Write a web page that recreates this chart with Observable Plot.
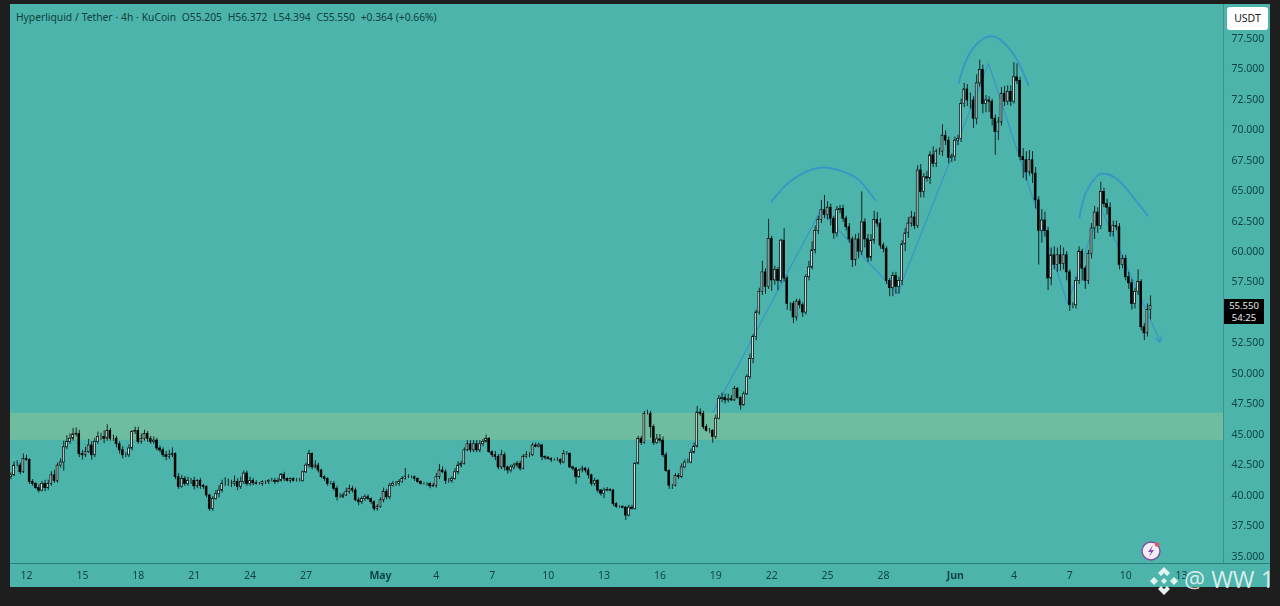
<!DOCTYPE html>
<html><head><meta charset="utf-8">
<script src="https://cdn.jsdelivr.net/npm/d3@7"></script>
<script src="https://cdn.jsdelivr.net/npm/@observablehq/plot@0.6"></script>
<style>
html,body{margin:0;padding:0;background:#1e1e1e;width:1280px;height:606px;overflow:hidden}
#panel{position:absolute;left:10px;top:4px;width:1260px;height:583px;background:#4db4ab}
#yline{position:absolute;left:1223px;top:4px;width:1px;height:559px;background:#3f8f8a}
#xline{position:absolute;left:10px;top:563px;width:1260px;height:1px;background:#2c7f7a}
#chart{position:absolute;left:0;top:0;filter:blur(.35px)}
#title{position:absolute;left:16px;top:10px;font:10.28px/14px "Noto Sans",sans-serif;color:#0c3f40;white-space:pre;word-spacing:.2px}
#usdt{position:absolute;left:1227px;top:7px;width:41px;height:23px;background:#fff;border-radius:3px;font:10.5px/23px "Noto Sans",sans-serif;color:#222;text-align:center}
#last{position:absolute;left:1224px;top:299px;width:40px;height:25px;background:#000;color:#e8e8e8;font:9.5px/12px "Noto Sans",sans-serif;text-align:center;box-sizing:border-box;padding-top:.5px}
#wm{position:absolute;left:1184px;top:564px;font:23.5px/30px "Open Sans",sans-serif;color:rgba(255,255,255,.78);white-space:pre}
svg.ov{position:absolute}
</style></head><body>
<div id="panel"></div><div id="yline"></div><div id="xline"></div>
<div id="chart"></div>
<div id="title">Hyperliquid / Tether · 4h · KuCoin  O55.205  H56.372  L54.394  C55.550  +0.364 (+0.66%)</div>
<div id="usdt">USDT</div>
<div id="last">55.550<br>54:25</div>
<svg class="ov" style="left:1140px;top:540px" width="22" height="22" viewBox="0 0 22 22"><circle cx="11" cy="11" r="9" fill="#f3eef6" stroke="#7d4fa0" stroke-width="1.4"/><path d="M13 5 L8 12 H11 L9 17 L14 10 H11 Z" fill="#8a4fb0"/><circle cx="17" cy="4.5" r="2.2" fill="#e8556a"/></svg>
<svg class="ov" style="left:1148px;top:565px" width="32" height="32" viewBox="0 0 32 32"><g fill="#e6f2f0"><path d="M16 2 L22 8 L19 11 L16 8 L13 11 L10 8 Z"/><path d="M16 30 L22 24 L19 21 L16 24 L13 21 L10 24 Z"/><path d="M2 16 L6 12 L10 16 L6 20 Z"/><path d="M30 16 L26 12 L22 16 L26 20 Z"/><path d="M16 13 L19 16 L16 19 L13 16 Z"/></g></svg>
<div id="wm">@ WW 1</div>
<script>
// Chart values, one row per calendar day (first row: the candles before 12 Apr)
const closes = [
41.65,42.45,42.45,41.9,43.0,
42.9,41.1,40.95,40.6,40.4,40.95,
40.6,40.95,41.65,41.2,42.45,42.7,
43.95,44.4,44.65,45.0,45.05,43.4,
43.3,43.55,44.1,43.3,44.4,44.8,
44.8,44.65,45.3,44.65,44.65,44.2,
43.7,43.3,43.3,43.85,45.2,45.3,
44.4,44.65,45.05,44.65,44.4,44.5,
43.85,43.7,43.3,43.15,43.3,43.4,
41.5,40.7,41.35,40.95,41.2,41.2,
40.75,41.2,40.8,40.7,40.0,38.9,
39.7,40.1,40.4,40.95,40.95,40.95,
40.95,41.1,40.7,41.1,41.8,40.95,
41.2,41.0,40.95,40.95,41.1,41.1,
41.2,41.2,41.1,41.2,41.7,41.35,
41.2,41.35,41.2,41.2,41.2,41.9,
42.45,43.4,42.3,42.45,42.05,41.5,
41.35,40.95,40.95,40.55,39.85,39.85,
40.0,40.3,40.55,40.4,39.6,39.45,
39.7,39.85,39.7,39.45,38.9,39.05,
39.6,40.3,39.85,40.8,40.95,40.95,
41.1,41.35,41.5,41.5,41.5,41.35,
41.1,40.95,40.95,40.95,40.75,40.8,
41.5,42.05,41.9,41.2,41.2,41.35,
41.9,42.45,42.6,43.7,44.2,43.7,
44.2,43.7,44.2,44.4,44.65,43.55,
43.3,43.15,42.3,43.3,42.3,42.05,
42.3,42.45,42.6,42.2,43.15,43.3,
43.3,44.1,44.0,44.1,43.15,43.1,
43.0,42.9,42.9,42.9,42.7,43.4,
43.4,42.3,42.2,41.5,42.05,42.2,
42.05,41.65,40.95,41.2,40.4,40.15,
40.4,40.45,40.4,39.3,39.05,39.05,
39.0,38.35,39.0,38.9,42.6,44.65,
44.3,46.7,46.7,45.6,44.3,44.6,
44.5,43.3,42.0,40.8,40.8,41.6,
41.5,42.3,42.7,42.7,43.5,44.0,
46.8,46.7,45.6,45.3,45.3,44.8,
46.3,47.9,48.0,47.8,47.9,47.8,
48.75,48.0,47.4,48.3,49.7,51.2,
53.0,55.0,56.7,58.3,57.1,61.05,
57.64,58.5,57.6,60.9,57.8,55.7,
55.7,54.6,55.9,55.6,55.0,57.9,
58.7,60.1,61.7,62.6,63.4,63.0,
63.6,62.7,61.5,63.4,63.5,62.7,
62.0,61.0,59.3,61.0,60.0,62.4,
61.0,59.5,60.9,62.6,62.3,60.5,
60.2,57.6,57.0,58.0,57.1,57.6,
60.6,61.5,62.3,62.8,62.1,66.65,
64.9,66.1,66.0,67.9,67.2,68.2,
68.2,69.5,69.1,67.7,67.8,69.1,
69.25,72.1,73.3,72.4,72.4,70.9,
73.8,74.9,72.1,72.4,72.3,70.9,
69.8,70.6,72.95,72.3,73.1,72.3,
74.3,74.0,67.75,67.5,66.5,67.5,
66.4,64.2,61.7,62.55,61.7,57.8,
59.7,58.9,59.7,59.0,59.7,58.3,
55.6,55.6,57.6,60.0,58.6,57.6,
59.8,61.9,63.2,62.1,64.9,63.9,
63.6,61.6,62.1,62.0,58.9,59.4,
57.9,57.4,55.7,56.7,57.5,53.8,
53.3,55.205,55.55];
const wickUp = [
.2,.3,.4,.2,.4,
.3,.1,.2,.1,.3,.2,
.3,.3,.3,.4,.2,.3,
.5,.5,.4,.5,.5,.3,
.3,.4,.5,.3,.3,.4,
.3,.5,.5,.2,.3,.2,
.2,.3,.2,.3,.1,.3,
.3,.4,.3,.2,.2,.3,
.2,.2,.2,.3,.4,.5,
.1,.3,.3,.2,.3,.2,
.3,.1,.2,.1,.1,.1,
.2,.3,.4,.3,.5,.4,
.3,.5,.3,.4,.2,.2,
.3,.2,.2,.1,.1,.1,
.1,.2,.2,.2,.1,.2,
.1,.1,.1,.2,.2,.1,
.2,.3,.1,.4,.2,.1,
.1,.1,.2,.2,.2,.3,
.2,.3,.3,.2,.2,.2,
.2,.2,.2,.1,.1,.2,
.2,.3,.2,.2,.2,.2,
.2,.2,.7,.2,.1,.1,
.1,.1,.1,.1,.1,.2,
.3,.5,.3,.2,.2,.2,
.3,.3,.2,.2,.3,.3,
.3,.3,.3,.2,.3,.1,
.1,.3,.2,.4,.2,.1,
.2,.2,.2,.2,.2,.3,
.2,.2,.2,.2,.1,.1,
.1,.1,.1,.2,.1,.3,
.2,.1,.1,.1,.1,.2,
.1,.2,.1,.2,.1,.1,
.2,.2,.1,.1,.1,.1,
.1,.1,.2,.2,.1,.2,
.2,.2,.3,.2,.2,.4,
.4,.3,.2,.1,.1,.2,
.2,.3,.2,.3,.3,.3,
.5,.3,.2,.2,.2,.1,
.3,.3,.4,.3,.4,.3,
.2,.1,.1,.2,.2,.4,
.2,.2,.3,.9,.3,1.6,
.2,.3,.2,.1,1.0,.2,
.1,.2,.2,.2,.2,.2,
.5,.7,.4,.3,.8,1.2,
.5,.3,.2,.3,.3,.3,
.2,.3,.2,.4,.5,2.5,
.3,.4,.5,.7,.6,.4,
.2,.2,.2,.3,.3,.3,
.3,.4,.5,.5,.4,.4,
.5,.3,.5,.3,.7,.2,
.3,.9,.4,.3,.2,.3,
.3,.4,.5,.4,.6,.3,
.7,.8,.4,.4,.3,.2,
.3,.4,.5,.6,.5,.5,
1.2,1.1,.3,.7,.7,.8,
.7,.5,.3,.9,.7,.3,
.6,.7,.6,.8,.6,.3,
.2,.2,.3,.4,.2,.2,
.3,.4,.5,.4,.8,.3,
.4,.4,.4,.4,.3,.3,
.3,.4,.3,.3,1.0,.2,
.3,.5,.822];
const wickDown = [
.2,.1,.1,.2,.1,
.1,.2,.2,.1,.2,.1,
.3,.2,.2,.2,.2,.2,
.7,.2,.2,.2,.2,.3,
.4,.2,.1,.4,.2,.2,
.3,.4,.2,.2,.2,.3,
.3,.3,.2,.2,.2,.2,
.2,.2,.2,.3,.2,.2,
.2,.2,.2,.3,.2,.2,
.2,.2,.1,.2,.2,.3,
.3,.2,.3,.2,.2,.2,
.2,.1,.3,.2,.2,.2,
.3,.2,.3,.2,.2,.2,
.2,.2,.1,.1,.2,.2,
.2,.1,.2,.1,.1,.2,
.1,.2,.1,.1,.1,.1,
.1,.2,.2,.1,.2,.1,
.2,.2,.1,.2,.3,.1,
.1,.1,.2,.2,.1,.3,
.2,.2,.1,.2,.2,.2,
.1,.2,.2,.2,.1,.2,
.2,.1,.1,.1,.1,.2,
.1,.1,.1,.2,.2,.1,
.2,.2,.1,.3,.2,.2,
.1,.2,.2,.1,.1,.2,
.2,.2,.2,.2,.1,.1,
.2,.3,.2,.2,.3,.3,
.2,.2,.2,.2,.1,.1,
.2,.1,.1,.1,.3,.2,
.1,.2,.1,.1,.2,.1,
.1,.1,.2,.6,.1,.2,
.2,.3,.2,.2,.2,.2,
.4,.1,.1,.2,.1,.1,
.1,.4,.1,.1,.1,.1,
.2,.1,.1,.9,.2,.1,
.2,.2,.1,.3,.3,.1,
.2,.1,.1,.1,.1,.1,
.1,.2,.2,.1,.2,.5,
.2,.1,.3,.3,.2,.1,
.1,.1,.4,.1,.1,.2,
.4,.3,.2,.3,.6,.2,
.9,.4,.8,.2,.3,.5,
.6,.5,.3,.3,.4,.2,
.3,.2,.3,.3,.3,.3,
.4,.6,.5,.3,.3,.3,
.3,.3,.6,.5,.6,.3,
.7,.4,.3,.3,.3,.3,
.3,.3,.7,.7,.6,.6,
.4,.6,.4,.3,.3,.2,
.5,.5,.3,.5,.3,.3,
.3,.4,.4,.5,.4,.4,
.4,.3,.3,.5,.7,.8,
.5,.3,.8,.7,.9,.6,
1.9,.7,.3,.4,.3,.4,
.2,.3,.3,1.5,.7,.3,
.8,.7,2.8,1.0,.5,1.0,
.6,.4,.6,.6,.5,.7,
.5,.3,.3,.3,1.0,.7,
.3,.4,.9,.6,.3,.3,
.6,.4,.4,.3,.4,.3,
.3,.5,.5,.4,.3,.3,
.6,.3,.811];
const firstOpen = 41.5;
const zone = [{low:44.52, high:46.74}];
const xTickDays = [0,3,6,9,12,15,22,25,28,31,34,37,40,43,46,53,56,59,62];
const xTickText = ["12","15","18","21","24","27","4","7","10","13","16","19","22","25","28","4","7","10","13"];
const monthDays = [19,49.85];
const monthText = ["May","Jun"];
const yTicks = [35,37.5,40,42.5,45,47.5,50,52.5,57.5,60,62.5,65,67.5,70,72.5,75,77.5];
const arc1 = [[39.99,64.11],[40.74,65.43],[41.55,66.33],[42.73,66.9],[43.96,66.49],[44.77,65.75],[45.57,64.2]];
const arc2 = [[50.03,73.79],[50.51,75.93],[51.21,77.32],[51.85,77.65],[52.44,77.16],[53.19,75.68],[53.78,73.63]];
const arc3 = [[56.52,62.8],[56.84,64.77],[57.38,66.08],[57.81,66.41],[58.56,65.92],[59.42,64.44],[60.17,62.97]];
const zigzag = [[36.86,46.83],[42.62,63.37],[46.75,56.57],[51.64,75.43],[55.88,55.75],[57.65,63.62]];
const lastLeg = [{x1:57.65,y1:63.62,x2:60.87,y2:52.55}];

const candles = closes.map((close,i)=>{
  const open = i? closes[i-1] : firstOpen;
  return {x:(i-5)/6, open, close,
    high:Math.max(open,close)+wickUp[i], low:Math.min(open,close)-wickDown[i]};
});
const half = 0.048;
const arcStyle = {x:d=>d[0], y:d=>d[1], stroke:"#3a95c6", strokeWidth:1.8, curve:"natural"};
const bodyOf = (rows,fill)=>Plot.rect(rows,{x1:d=>d.x-half,x2:d=>d.x+half,y1:"open",y2:"close",fill,stroke:"#000",strokeWidth:.7});
const plot = Plot.plot({
  width:1280,height:606,marginLeft:10,marginRight:57,marginTop:4,marginBottom:43,
  style:{background:"transparent",fontFamily:"'Noto Sans',sans-serif"},
  x:{domain:[-0.859,64.25]},
  y:{domain:[34.42,80.27]},
  marks:[
    Plot.rect(zone,{y1:"low",y2:"high",fill:"#6ebd9e"}),
    Plot.axisY({anchor:"right",ticks:yTicks,tickSize:0,tickPadding:8,label:null,tickFormat:d3.format(".3f"),fontSize:10.5,color:"#0c4546"}),
    Plot.axisX({anchor:"bottom",ticks:xTickDays,tickSize:0,tickPadding:8,label:null,fontSize:10.5,color:"#0c4546",tickFormat:d=>xTickText[xTickDays.indexOf(d)]}),
    Plot.axisX({anchor:"bottom",ticks:monthDays,tickSize:0,tickPadding:8,label:null,fontSize:10.5,fontWeight:"bold",color:"#0c4546",tickFormat:d=>monthText[monthDays.indexOf(d)]}),
    Plot.line(zigzag,{x:d=>d[0],y:d=>d[1],stroke:"#3a95c6",strokeWidth:1.2}),
    Plot.arrow(lastLeg,{x1:"x1",y1:"y1",x2:"x2",y2:"y2",stroke:"#3a95c6",strokeWidth:1.2,headLength:8,inset:0}),
    Plot.ruleX(candles,{x:"x",y1:"low",y2:"high",stroke:"#000",strokeWidth:.8}),
    bodyOf(candles.filter(d=>d.close>=d.open),"#d4ece9"),
    bodyOf(candles.filter(d=>d.close<d.open),"#000"),
    Plot.line(arc1,arcStyle),
    Plot.line(arc2,arcStyle),
    Plot.line(arc3,arcStyle)
  ]
});
document.getElementById("chart").appendChild(plot);
</script>
</body></html>
